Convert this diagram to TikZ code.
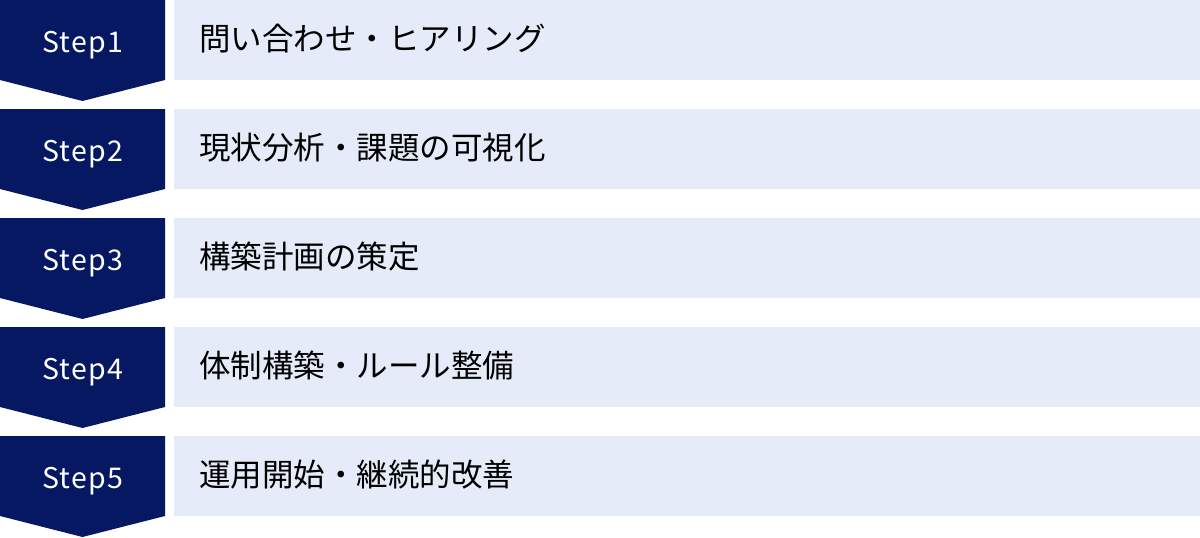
\documentclass[tikz,border=0pt]{standalone}
\usepackage{fontspec}
\setmainfont{Noto Sans CJK JP}
\newfontfamily\stepfont[LetterSpace=5]{Noto Sans CJK JP}
\definecolor{navy}{RGB}{6,24,98}
\definecolor{lightbg}{RGB}{229,235,249}
\tikzset{
  chevron/.style={fill=navy, draw=none},
  bar/.style={fill=lightbg, draw=none},
  steplabel/.style={text=white, font=\stepfont\fontsize{28.5}{29}\selectfont, inner sep=0pt, anchor=base},
  barlabel/.style={text=black, font=\fontsize{31.5}{32}\selectfont, inner sep=0pt, anchor=base west}
}
\begin{document}
\begin{tikzpicture}[x=1pt,y=-1pt]
\useasboundingbox (0,0) rectangle (1200,538);
\foreach \i/\t in {1/問い合わせ・ヒアリング,2/現状分析・課題の可視化,3/構築計画の策定,4/体制構築・ルール整備,5/運用開始・継続的改善}{
  \pgfmathsetmacro{\top}{109*(\i-1)}
  \fill[chevron] (0,\top) -- (165,\top) -- (165,\top+80) -- (82.5,\top+101) -- (0,\top+80) -- cycle;
  \fill[bar] (174,\top) rectangle (1200,\top+80);
  \node[steplabel] (s\i) at (83,\top+52) {Step\i};
  \node[barlabel] (b\i) at (199,\top+50) {\t};
}
\end{tikzpicture}
\end{document}
